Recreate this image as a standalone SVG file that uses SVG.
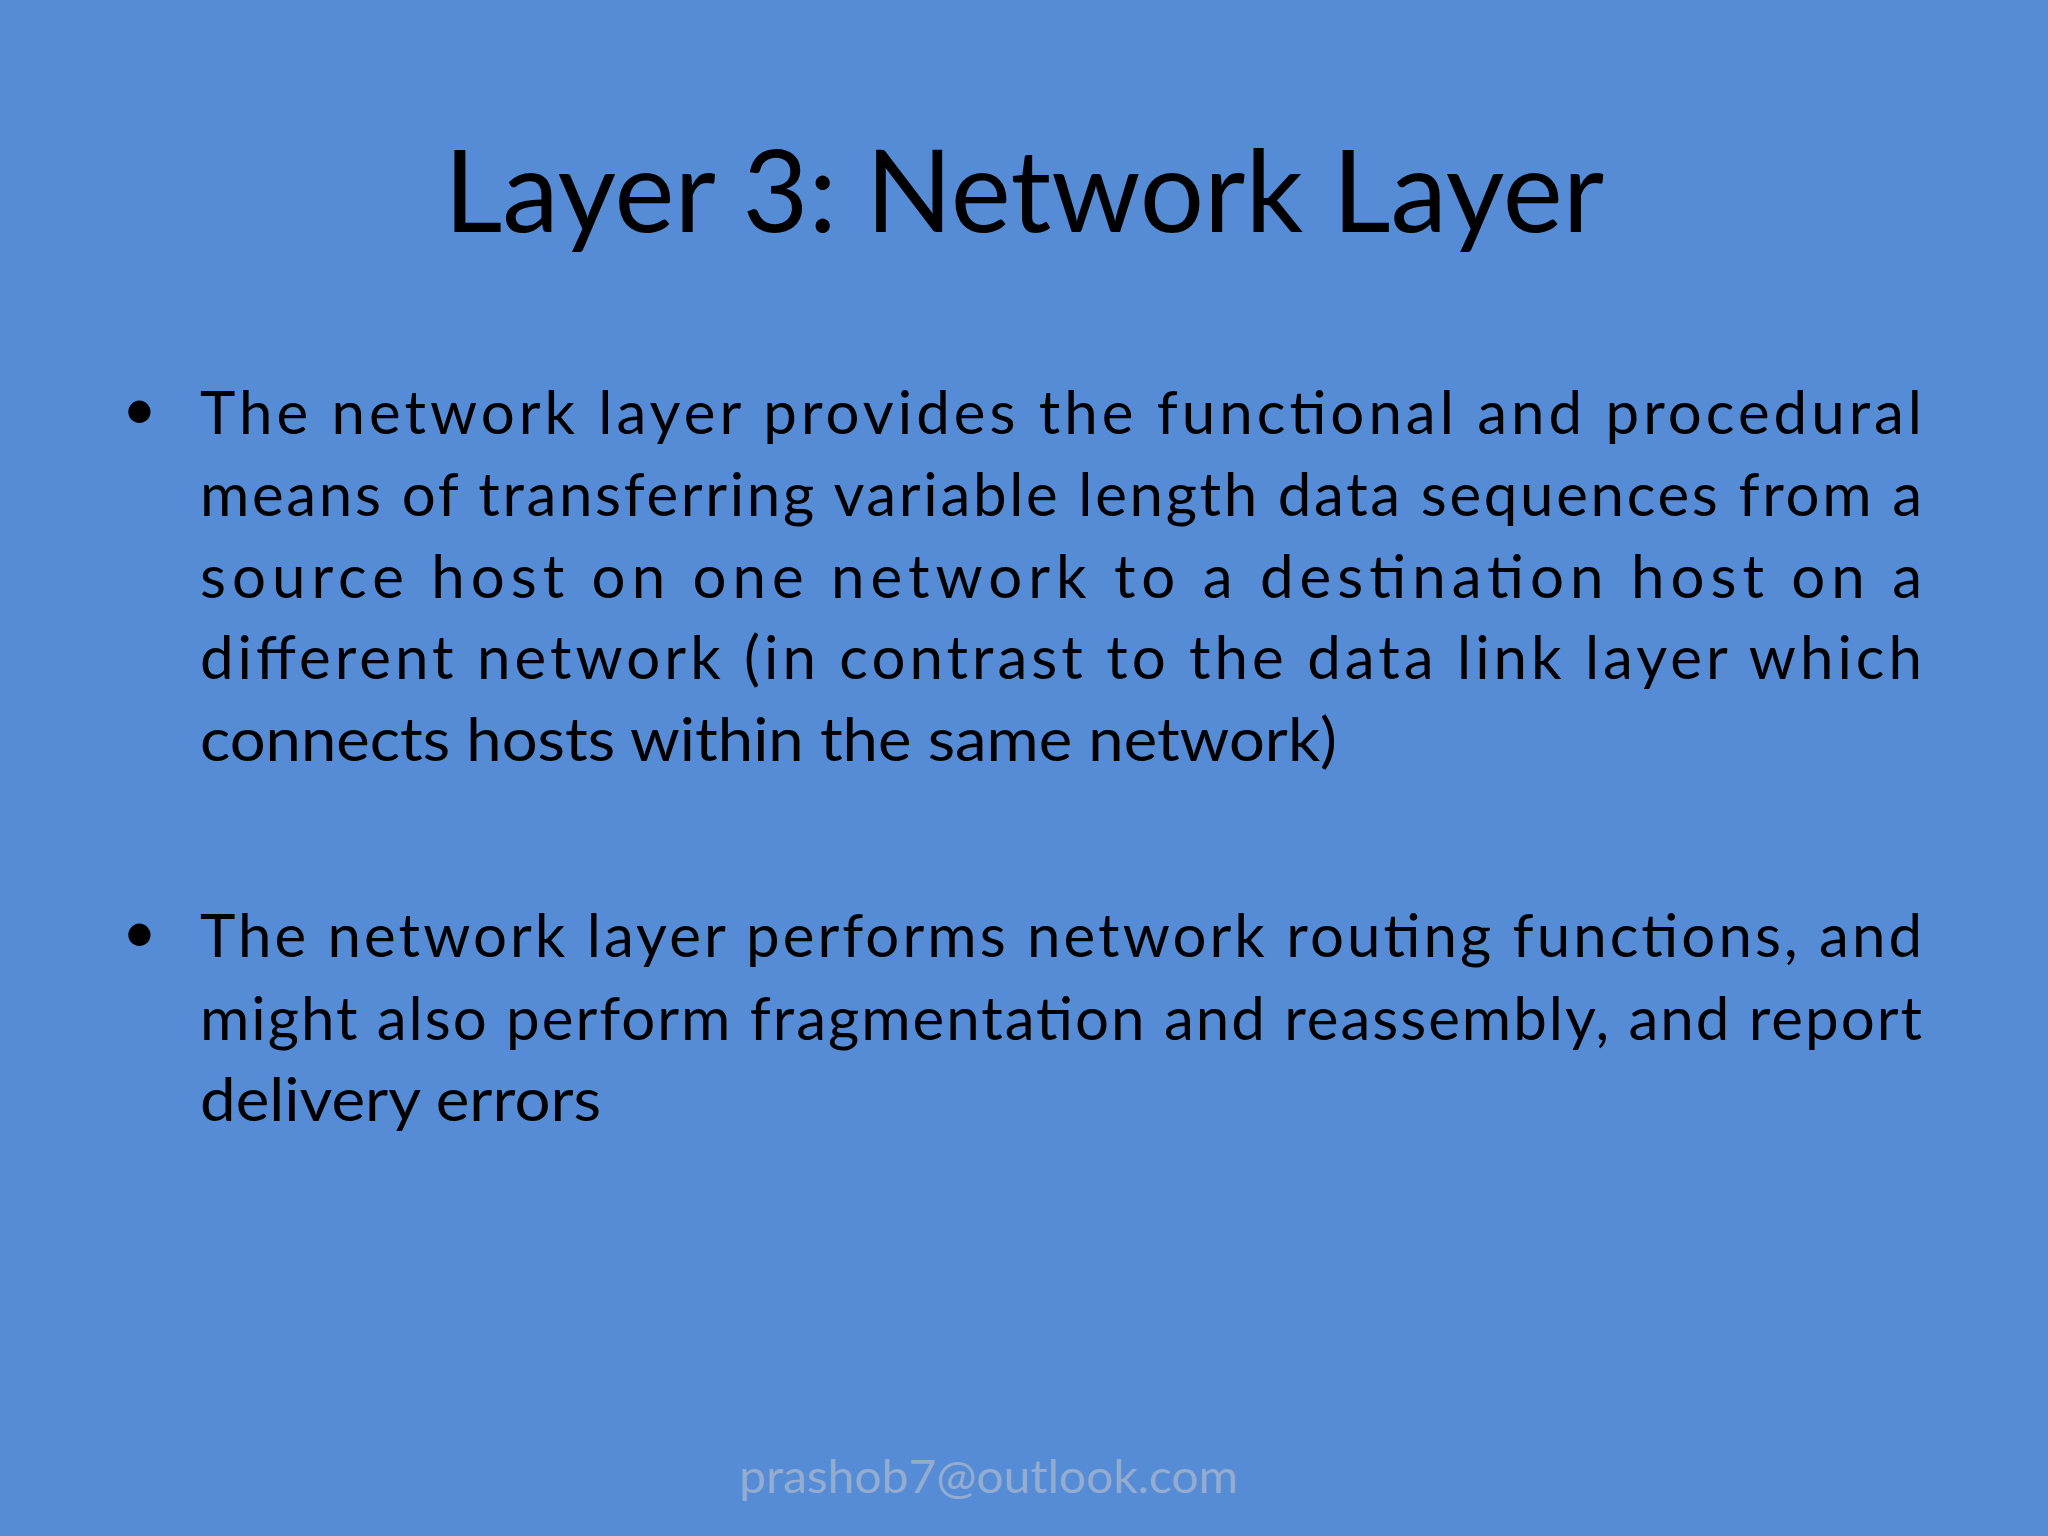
<svg xmlns="http://www.w3.org/2000/svg" width="2048" height="1536" viewBox="0 0 2048 1536">
<style>
.t{font-family:Lato,"Open Sans","Liberation Sans",sans-serif;fill:#000}
.b{font-size:60px}
</style>
<rect width="2048" height="1536" fill="#568bd6"/>
<text class="t" x="444" y="232" font-size="114" textLength="1160" lengthAdjust="spacingAndGlyphs">Layer 3: Network Layer</text>
<g class="t b">
<text x="122" y="430">•</text>
<text x="200" y="434" textLength="1722" lengthAdjust="spacing">The network layer provides the functional and procedural</text>
<text x="200" y="516" textLength="1722" lengthAdjust="spacing">means of transferring variable length data sequences from a</text>
<text x="200" y="598" textLength="1722" lengthAdjust="spacing">source host on one network to a destination host on a</text>
<text x="200" y="679" textLength="1722" lengthAdjust="spacing">different network (in contrast to the data link layer which</text>
<text x="200" y="761" textLength="1137" lengthAdjust="spacingAndGlyphs">connects hosts within the same network)</text>
<text x="122" y="953">•</text>
<text x="200" y="957" textLength="1722" lengthAdjust="spacing">The network layer performs network routing functions, and</text>
<text x="200" y="1040" textLength="1722" lengthAdjust="spacing">might also perform fragmentation and reassembly, and report</text>
<text x="200" y="1121" textLength="401" lengthAdjust="spacingAndGlyphs">delivery errors</text>
</g>
<text x="739" y="1493" font-family="Lato,'Open Sans',sans-serif" font-size="46" fill="#93acd0" textLength="499" lengthAdjust="spacingAndGlyphs">prashob7@outlook.com</text>
</svg>
